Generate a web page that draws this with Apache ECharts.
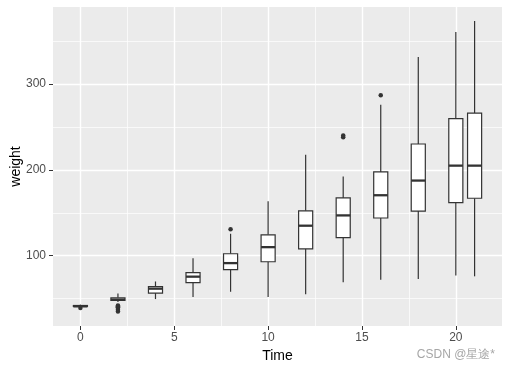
<!DOCTYPE html>
<html>
<head>
<meta charset="utf-8">
<script src="https://cdn.jsdelivr.net/npm/echarts@6/dist/echarts.min.js"></script>
<style>
html,body{margin:0;padding:0;background:#fff;}
#chart{width:510px;height:371px;}
</style>
</head>
<body>
<div id="chart"></div>
<script>
// ---- data ----
var times       = [0, 2, 4, 6, 8, 10, 12, 14, 16, 18, 20, 21];
var lowWhisker  = [40, 46, 49.5, 52, 58, 52, 55, 69, 72, 73, 77, 76];
var q1          = [41, 48, 56.5, 68.6, 83.7, 93, 108, 121, 144, 152, 162, 167];
var medians     = [41, 49, 61.6, 75.6, 91.4, 110, 135, 147, 170.5, 187.6, 205, 205];
var q3          = [42, 51, 64, 80.2, 102.3, 124.4, 152.3, 167.4, 197.7, 230.2, 259.7, 266.3];
var highWhisker = [43, 56, 70, 97, 125.6, 163.5, 217.8, 192.2, 275.9, 331.7, 360.8, 373.6];
var outlierTimes  = [0, 2, 2, 2, 2, 2, 2, 8, 14, 14, 16];
var outlierValues = [39, 35, 37, 39, 40, 41, 42, 131, 238, 240, 287];
var xTicks = [0, 5, 10, 15, 20];
var xMinor = [2.5, 7.5, 12.5, 17.5];
var yTicks = [100, 200, 300];
var yMinor = [50, 150, 250, 350];

var boxData = times.map(function (t, i) {
  return [t, lowWhisker[i], q1[i], medians[i], q3[i], highWhisker[i]];
});
var outlierData = outlierTimes.map(function (t, i) { return [t, outlierValues[i]]; });

var FONT = '"Liberation Sans", Arial, sans-serif';
var chart = echarts.init(document.getElementById('chart'));

function renderBox(params, api) {
  var t = api.value(0);
  var pLo = api.coord([t, api.value(1)]);
  var pQ1 = api.coord([t, api.value(2)]);
  var pMed = api.coord([t, api.value(3)]);
  var pQ3 = api.coord([t, api.value(4)]);
  var pHi = api.coord([t, api.value(5)]);
  var w = api.size([0.75, 0])[0];
  var cx = pMed[0];
  var line = { stroke: '#333333', lineWidth: 1.2 };
  return {
    type: 'group',
    children: [
      { type: 'line', shape: { x1: cx, y1: pHi[1], x2: cx, y2: pQ3[1] }, style: line },
      { type: 'line', shape: { x1: cx, y1: pQ1[1], x2: cx, y2: pLo[1] }, style: line },
      { type: 'rect', shape: { x: cx - w / 2, y: pQ3[1], width: w, height: pQ1[1] - pQ3[1] },
        style: { fill: '#ffffff', stroke: '#333333', lineWidth: 1.2 } },
      { type: 'line', shape: { x1: cx - w / 2, y1: pMed[1], x2: cx + w / 2, y2: pMed[1] },
        style: { stroke: '#333333', lineWidth: 2.3 } }
    ]
  };
}

var option = {
  backgroundColor: '#ffffff',
  animation: false,
  grid: { left: 53, right: 8, top: 7, bottom: 45, show: true, backgroundColor: '#EBEBEB', borderWidth: 0,
          containLabel: false, outerBoundsMode: 'none' },
  xAxis: [{
    type: 'value', min: -1.46, max: 22.46, position: 'bottom',
    name: 'Time', nameLocation: 'middle', nameGap: 23, nameMoveOverlap: false,
    nameTextStyle: { color: '#000', fontSize: 14, fontFamily: FONT },
    axisLine: { show: false, onZero: false },
    axisTick: { show: true, length: 4, lineStyle: { color: '#333333', width: 1 }, customValues: xTicks },
    axisLabel: { color: '#4D4D4D', fontSize: 12, fontFamily: FONT, margin: 6, customValues: xTicks },
    splitLine: { show: true, lineStyle: { color: '#ffffff', width: 1.4 } }
  }, {
    type: 'value', min: -1.46, max: 22.46, position: 'bottom',
    axisLine: { show: false, onZero: false },
    axisTick: { show: false, customValues: xMinor },
    axisLabel: { show: false, customValues: xMinor },
    splitLine: { show: true, lineStyle: { color: '#ffffff', width: 0.7 } }
  }],
  yAxis: [{
    type: 'value', min: 18.1, max: 389.9, position: 'left',
    name: 'weight', nameLocation: 'middle', nameGap: 30, nameMoveOverlap: false,
    nameTextStyle: { color: '#000', fontSize: 14, fontFamily: FONT },
    axisLine: { show: false, onZero: false },
    axisTick: { show: true, length: 4, lineStyle: { color: '#333333', width: 1 }, customValues: yTicks },
    axisLabel: { color: '#4D4D4D', fontSize: 12, fontFamily: FONT, margin: 7, customValues: yTicks },
    splitLine: { show: true, lineStyle: { color: '#ffffff', width: 1.4 } }
  }, {
    type: 'value', min: 18.1, max: 389.9, position: 'left',
    axisLine: { show: false, onZero: false },
    axisTick: { show: false, customValues: yMinor },
    axisLabel: { show: false, customValues: yMinor },
    splitLine: { show: true, lineStyle: { color: '#ffffff', width: 0.7 } }
  }],
  series: [{
    type: 'custom',
    xAxisIndex: 0, yAxisIndex: 0,
    renderItem: renderBox,
    encode: { x: 0, y: [1, 2, 3, 4, 5] },
    data: boxData,
    clip: false
  }, {
    type: 'scatter',
    xAxisIndex: 0, yAxisIndex: 0,
    symbol: 'circle', symbolSize: 4.5,
    itemStyle: { color: '#333333', opacity: 1 },
    data: outlierData,
    z: 3
  }],
  graphic: [{
    type: 'text', right: 15, top: 349,
    style: { text: 'CSDN @星途*', fill: '#a6a6a6', font: '12px ' + FONT }
  }]
};
chart.setOption(option);
</script>
</body>
</html>
